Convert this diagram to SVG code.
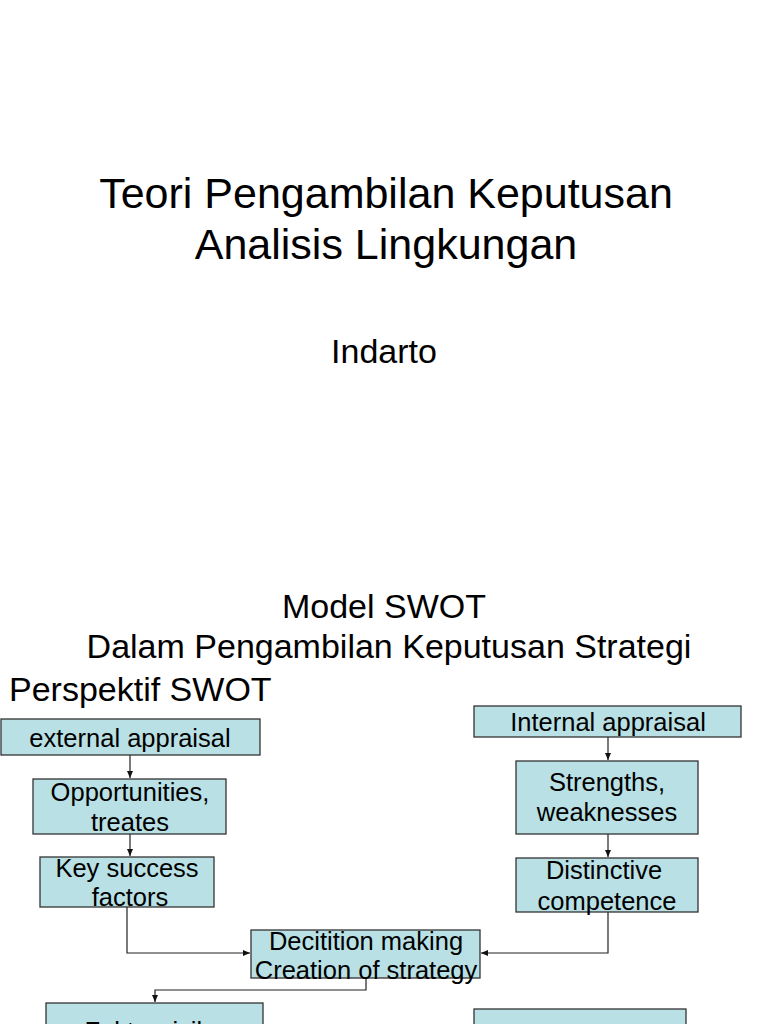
<svg xmlns="http://www.w3.org/2000/svg" width="768" height="1024" viewBox="0 0 768 1024">
<defs>
<marker id="ah" markerWidth="8" markerHeight="8" refX="7" refY="4" orient="auto" markerUnits="userSpaceOnUse">
<path d="M0,1 L7,4 L0,7 Z" fill="#111"/>
</marker>
</defs>
<style>
text{font-family:"Liberation Sans",Arial,sans-serif;fill:#000}
.t{font-size:43px}
.h{font-size:34px}
.b{font-size:25.5px}
.box{fill:#b9e0e4;stroke:#333;stroke-width:1.3}
.c{fill:none;stroke:#222;stroke-width:1.2}
</style>
<rect width="768" height="1024" fill="#fff"/>
<g id="title">
<text class="t" x="386" y="208" text-anchor="middle">Teori Pengambilan Keputusan</text>
<text class="t" x="386" y="259" text-anchor="middle">Analisis Lingkungan</text>
<text class="h" x="384" y="363" text-anchor="middle">Indarto</text>
<text class="h" x="384" y="618" text-anchor="middle">Model SWOT</text>
<text class="h" x="389" y="658" text-anchor="middle">Dalam Pengambilan Keputusan Strategi</text>
<text class="h" x="9" y="701">Perspektif SWOT</text>
</g>
<g id="connectors">
<line class="c" x1="130" y1="755" x2="130" y2="778" marker-end="url(#ah)"/>
<line class="c" x1="130" y1="834" x2="130" y2="856" marker-end="url(#ah)"/>
<line class="c" x1="608" y1="737" x2="608" y2="760" marker-end="url(#ah)"/>
<line class="c" x1="608" y1="834" x2="608" y2="857" marker-end="url(#ah)"/>
<polyline class="c" points="127,907 127,953 250,953" marker-end="url(#ah)"/>
<polyline class="c" points="608,912 608,953 481,953" marker-end="url(#ah)"/>
<polyline class="c" points="366,978 366,990 155,990 155,1002" marker-end="url(#ah)"/>
</g>
<g id="external">
<rect class="box" x="1" y="719" width="259" height="36"/>
<text class="b" x="130" y="747" text-anchor="middle">external appraisal</text>
</g>
<g id="opportunities">
<rect class="box" x="33" y="779" width="193" height="55"/>
<text class="b" x="130" y="801" text-anchor="middle">Opportunities,</text>
<text class="b" x="130" y="831" text-anchor="middle">treates</text>
</g>
<g id="keysuccess">
<rect class="box" x="40" y="857" width="174" height="50"/>
<text class="b" x="127" y="877" text-anchor="middle">Key success</text>
<text class="b" x="130" y="906" text-anchor="middle">factors</text>
</g>
<g id="internal">
<rect class="box" x="474" y="706" width="267" height="31"/>
<text class="b" x="608" y="731" text-anchor="middle">Internal appraisal</text>
</g>
<g id="strengths">
<rect class="box" x="516" y="761" width="182" height="73"/>
<text class="b" x="607" y="791" text-anchor="middle">Strengths,</text>
<text class="b" x="607" y="821" text-anchor="middle">weaknesses</text>
</g>
<g id="distinctive">
<rect class="box" x="516" y="858" width="182" height="54"/>
<text class="b" x="604" y="879" text-anchor="middle">Distinctive</text>
<text class="b" x="607" y="910" text-anchor="middle">competence</text>
</g>
<g id="decision">
<rect class="box" x="251" y="930" width="229" height="48"/>
<text class="b" x="366" y="950" text-anchor="middle">Decitition making</text>
<text class="b" x="366" y="979" text-anchor="middle">Creation of strategy</text>
</g>
<g id="bottomleft">
<rect class="box" x="46" y="1003" width="217" height="40"/>
<text class="b" x="154" y="1040" text-anchor="middle">Faktor risiko</text>
</g>
<g id="bottomright">
<rect class="box" x="474" y="1009" width="212" height="40"/>
</g>
</svg>
